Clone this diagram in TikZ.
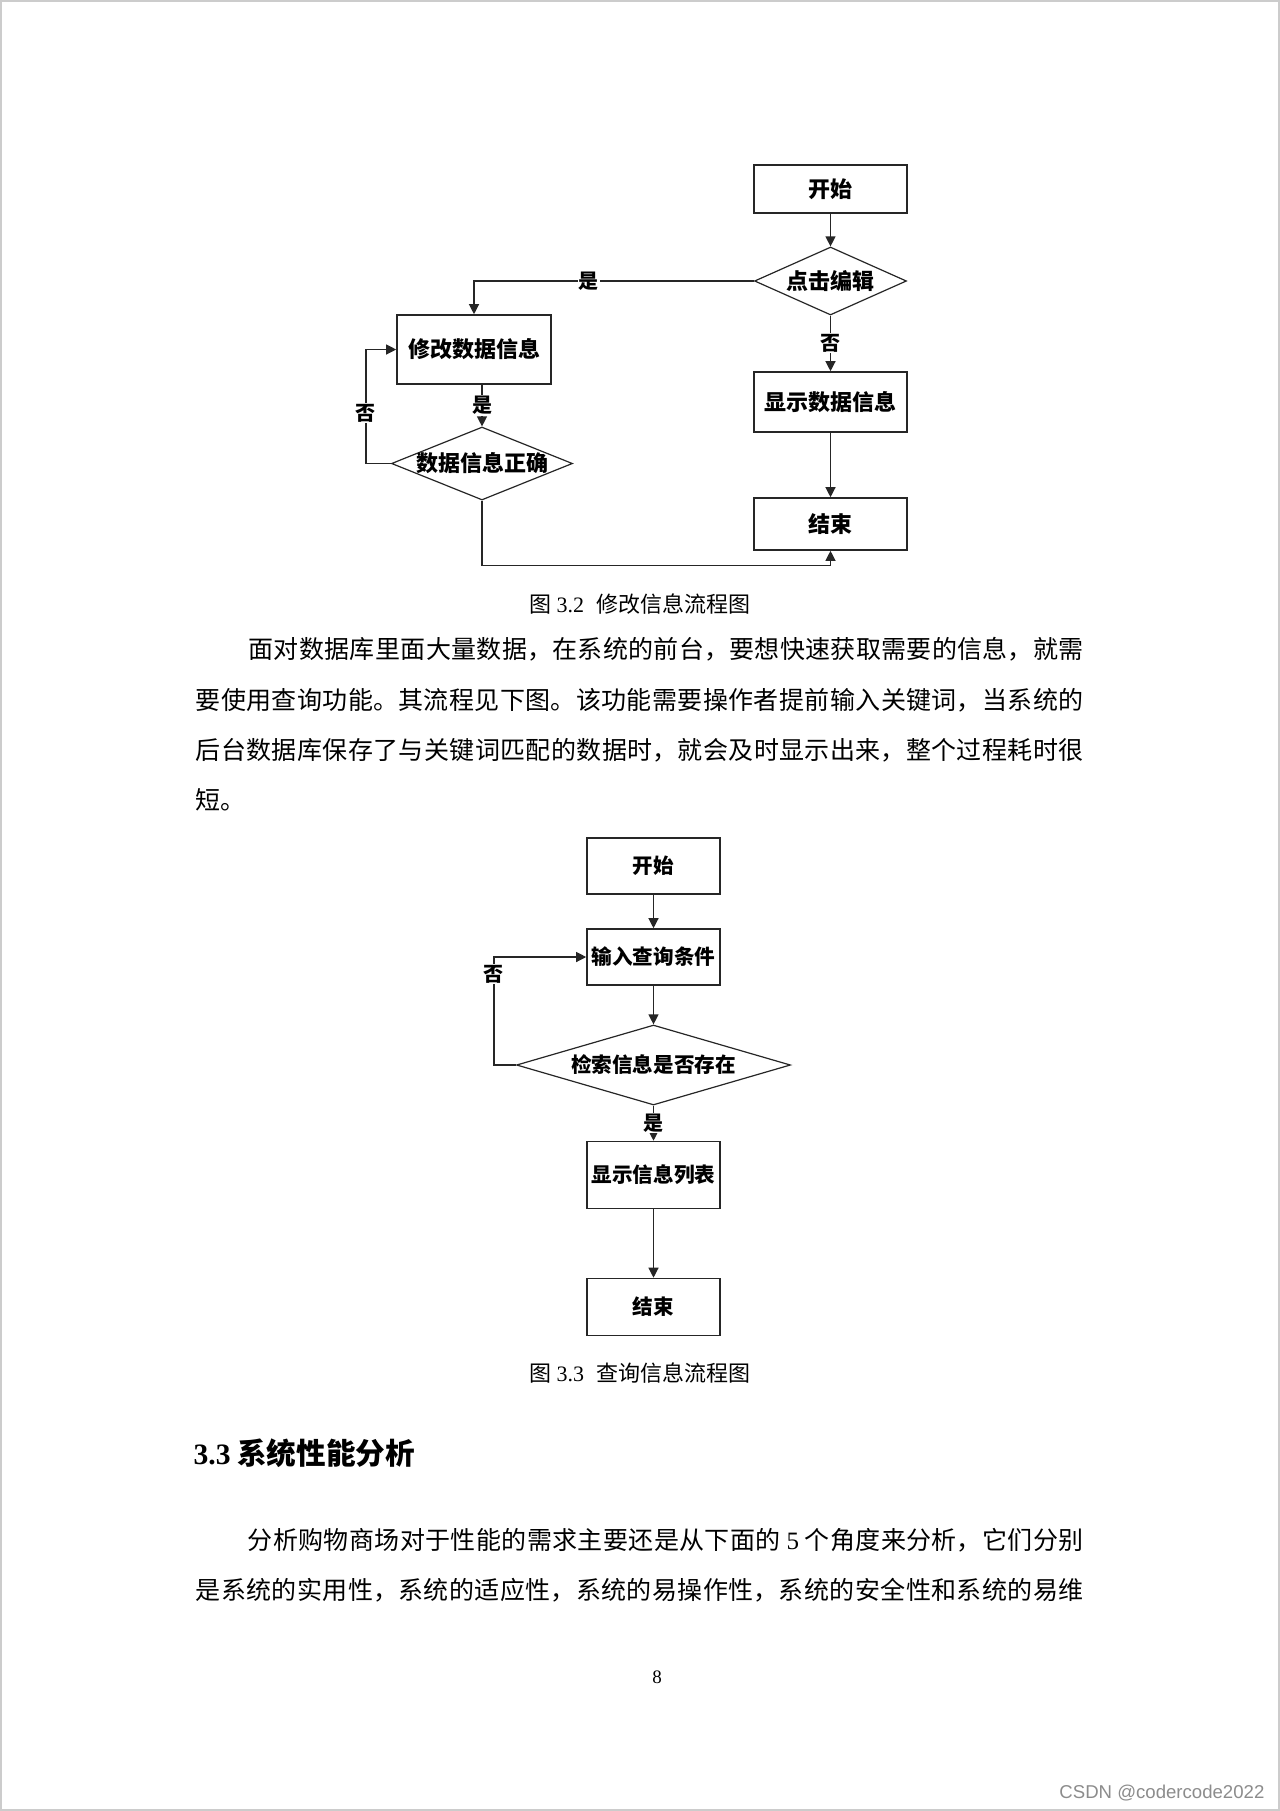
\documentclass[tikz,border=0pt]{standalone}
\usepackage{fontspec}
\setmainfont{Noto Sans CJK SC}
\newfontfamily\lat{Liberation Serif}
\newfontfamily\wmfont{Liberation Sans}
\usetikzlibrary{arrows.meta,shapes.geometric}

\XeTeXlinebreaklocale "zh"
\XeTeXlinebreakskip=0pt plus 2pt

% one full, justified line of body text
\newcommand{\justline}[2]{\parbox{#1}{\parfillskip=0pt #2}}

\tikzset{
	process/.style={rectangle, draw=black!85, line width=0.8pt, inner sep=1pt,
		minimum width=76.5pt, font=\bfseries\fontsize{11pt}{13pt}\selectfont},
	decision/.style={diamond, draw=black!85, line width=0.6pt, inner sep=-3pt,
		shape aspect=2.5, font=\bfseries\fontsize{11pt}{13pt}\selectfont},
	qbox/.style={minimum width=66.5pt, font=\bfseries\fontsize{10.3pt}{12pt}\selectfont},
	lbl/.style={fill=white, inner sep=0.5pt, font=\bfseries\fontsize{10pt}{12pt}\selectfont},
	caption/.style={inner sep=0pt, font=\fontsize{11pt}{13pt}\selectfont},
	bodyline/.style={anchor=west, inner sep=0pt, font=\fontsize{12.5pt}{15pt}\selectfont}
}

\begin{document}
\begin{tikzpicture}[x=0.5pt, y=-0.5pt, >={Triangle[length=5pt,width=5pt]},
	line width=0.6pt, draw=black!85, node distance=46pt]
	\useasboundingbox (0,0) rectangle (1280,1811);
	\fill [white] (0,0) rectangle (1280,1811);
	\draw [black!20, line width=1pt] (1,1) rectangle (1279,1810);

	% Nodes {start, click, show, end, modify, check}
	\node [process, minimum height=24pt]	(start)  at (830.5,189)	{开始};
	\node [decision, minimum width=76pt, minimum height=34pt]	(click)  [below of=start]	{点击编辑};
	\node [process, minimum height=30pt]	(show)   [below of=click, node distance=60.5pt]	{显示数据信息};
	\node [process, minimum height=26pt]	(end)    [below of=show, node distance=61pt]	{结束};
	\node [process, minimum width=77pt, minimum height=34.5pt]	(modify) at (474,349.5)	{修改数据信息};
	\node [decision, minimum width=90.5pt, minimum height=36.5pt]	(check)  [below of=modify, node distance=57pt, xshift=4pt]	{数据信息正确};

	% Right column
	\path [->] 	(start) edge 	(click);
	\path [->] 	(click) edge 	node [lbl] {否}	(show);
	\path [->] 	(show) edge 	(end);

	% Edit branch
	\draw [->] 	(click.west) -- node [lbl, pos=0.59] {是} (click.west -| modify.north) -- (modify.north);
	\path [->] 	(modify.south -| check.north) edge 	node [lbl] {是}	(check.north);
	\draw [->] 	(check.west) -- ++(-25,0) |- node [lbl, pos=0.22] {否} (modify.west);
	\draw [->] 	(check.south) -- ++(0,65) -| (end.south);

	\node [caption] (cap2) at (640,604) {图 {\lat 3.2}\hspace{0.55em}修改信息流程图};

	% Text
	\node [bodyline] (p1a) at (248,649) {\justline{417.5pt}{面对数据库里面大量数据，在系统的前台，要想快速获取需要的信息，就需}};
	\node [bodyline] (p1b) at (195,700) {\justline{444pt}{要使用查询功能。其流程见下图。该功能需要操作者提前输入关键词，当系统的}};
	\node [bodyline] (p1c) at (195,750) {\justline{444pt}{后台数据库保存了与关键词匹配的数据时，就会及时显示出来，整个过程耗时很}};
	\node [bodyline] (p1d) at (195,800) {短。};

	% Nodes {qstart, input, search, list, qend}
	\node [process, qbox, minimum height=28pt]	(qstart) at (653.5,866)	{开始};
	\node [process, qbox, minimum height=28pt]	(input)  [below of=qstart, node distance=45.5pt]	{输入查询条件};
	\node [decision, qbox, minimum width=137pt, minimum height=40pt]	(search) [below of=input, node distance=54pt]	{检索信息是否存在};
	\node [process, qbox, minimum height=33.5pt]	(list)   [below of=search, node distance=55pt]	{显示信息列表};
	\node [process, qbox, minimum height=28.5pt]	(qend)   [below of=list, node distance=66pt]	{结束};

	% Query paths
	\path [->] 	(qstart) edge 	(input);
	\path [->] 	(input) edge 	(search);
	\path [->] 	(search) edge 	node [lbl] {是}	(list);
	\path [->] 	(list) edge 	(qend);
	\draw [->] 	(search.west) -- ++(-22,0) |- node [lbl, pos=0.42] {否} (input.west);

	\node [caption] (cap3) at (640,1373) {图 {\lat 3.3}\hspace{0.55em}查询信息流程图};

	% Section
	\node [anchor=west, inner sep=0pt, font=\bfseries\fontsize{14.8pt}{17pt}\selectfont] (sec) at (193,1453) {{\lat\bfseries 3.3} 系统性能分析};
	\node [bodyline] (p2a) at (247,1540) {\justline{418pt}{分析购物商场对于性能的需求主要还是从下面的 {\lat 5} 个角度来分析，它们分别}};
	\node [bodyline] (p2b) at (195,1590) {\justline{444pt}{是系统的实用性，系统的适应性，系统的易操作性，系统的安全性和系统的易维}};

	\node [font=\lat\fontsize{9.5pt}{11pt}\selectfont] (pnum) at (657,1677) {8};
	\node [anchor=east, inner sep=0pt, text=black!45, font=\wmfont\fontsize{9.3pt}{11pt}\selectfont] (wm) at (1265,1793) {CSDN @codercode2022};
\end{tikzpicture}
\end{document}
